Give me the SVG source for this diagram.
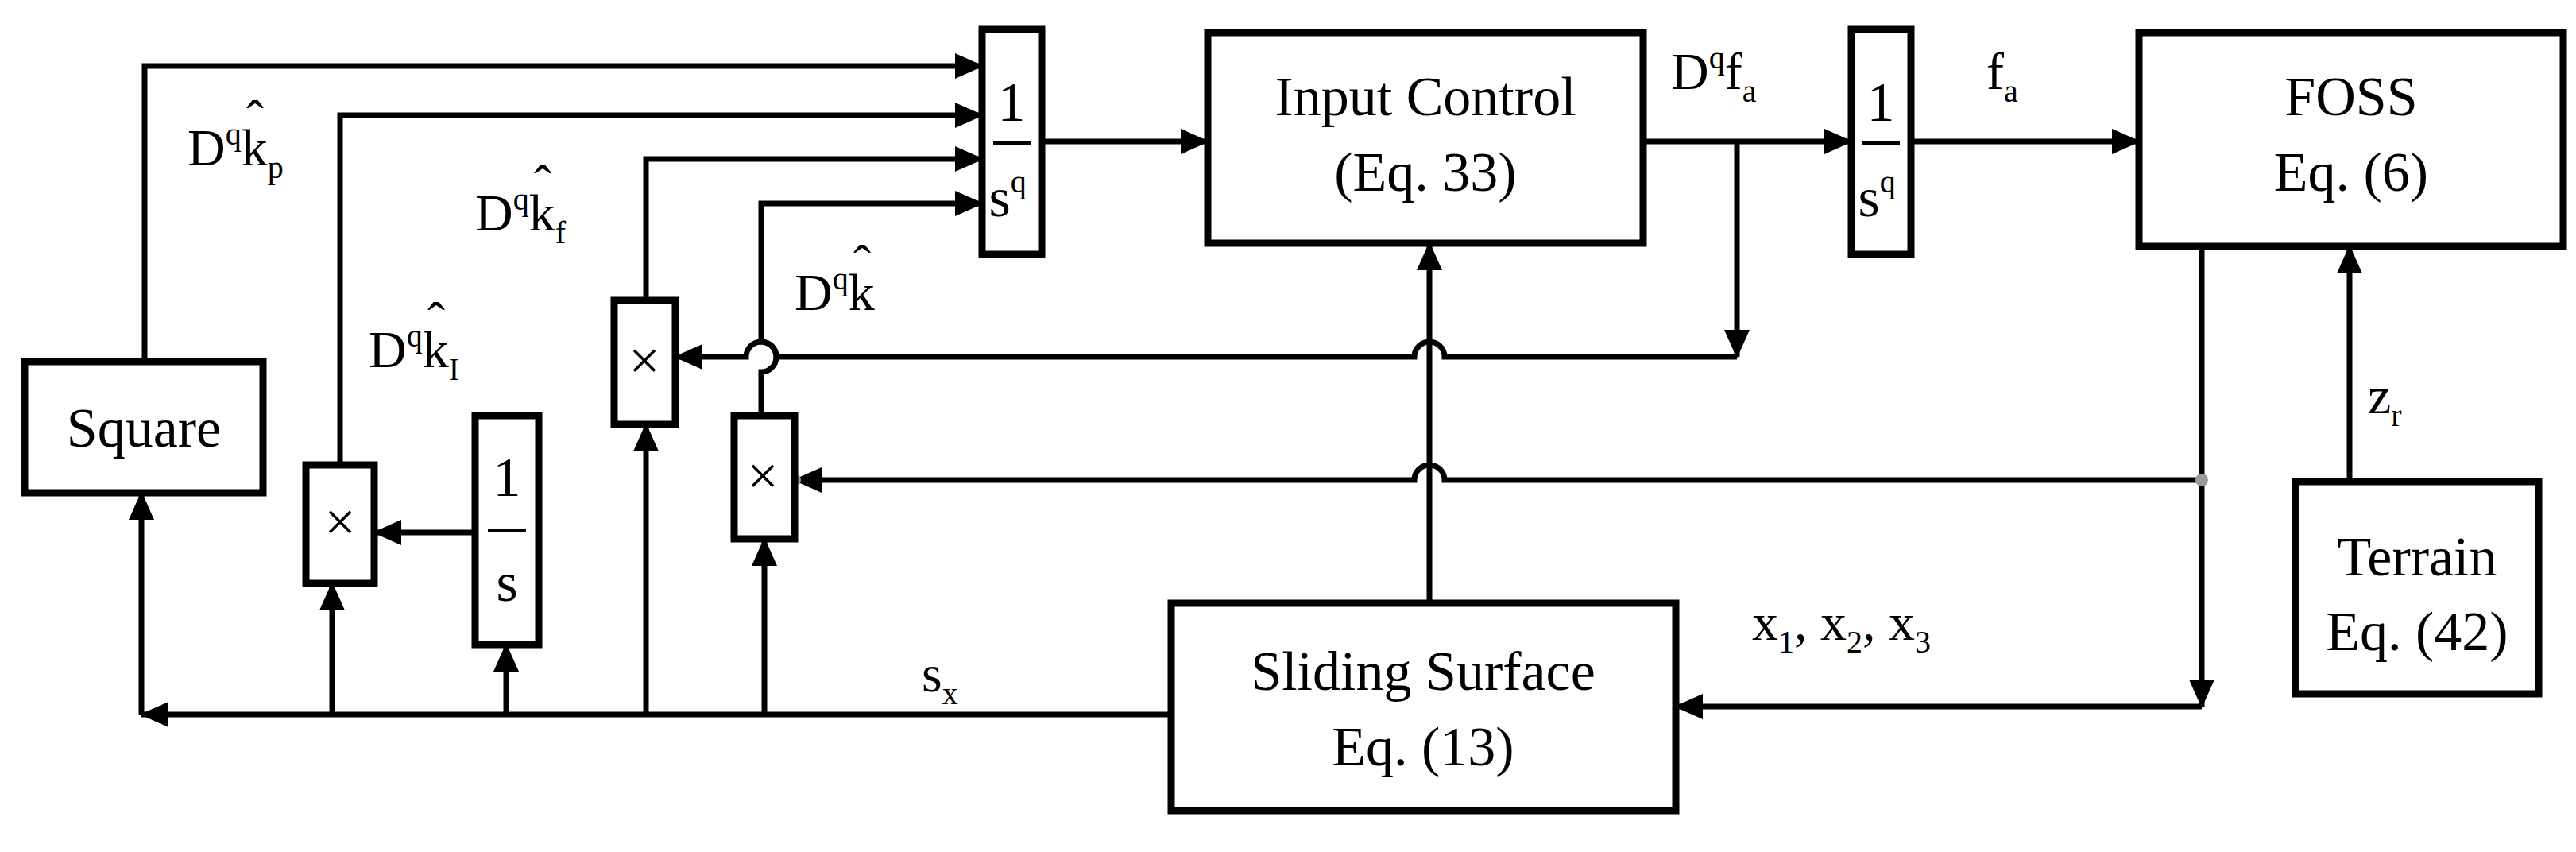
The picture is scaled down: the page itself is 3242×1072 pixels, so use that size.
<svg xmlns="http://www.w3.org/2000/svg" width="3242" height="1072" viewBox="0 0 3242 1072">
<style>
.b{fill:#fff;stroke:#000;stroke-width:9}
.l{fill:none;stroke:#000;stroke-width:7}
.t{font-family:"Liberation Serif","Times New Roman","DejaVu Serif",serif;font-size:70px;text-anchor:middle;fill:#000}
.lb{font-family:"Liberation Serif","Times New Roman","DejaVu Serif",serif;font-size:66px;fill:#000}
.h{font-family:"Liberation Serif","Times New Roman","DejaVu Serif",serif;font-size:66px;text-anchor:middle;fill:#000}
.sub{font-size:40px}
</style>
<defs>
<marker id="a" markerUnits="userSpaceOnUse" markerWidth="36" markerHeight="32" refX="34" refY="16" orient="auto"><path d="M0,0 L36,16 L0,32 Z"/></marker>
</defs>
<g id="connectors">
<path class="l" d="M182,455 V83 H1236" marker-end="url(#a)"/>
<path class="l" d="M428,585 V145 H1236" marker-end="url(#a)"/>
<path class="l" d="M813,378 V200 H1236" marker-end="url(#a)"/>
<path class="l" d="M958,523 V468 A19,19 0 0 0 958,430 V256 H1236" marker-end="url(#a)"/>
<path class="l" d="M1311,178 H1520" marker-end="url(#a)"/>
<path class="l" d="M2068,178 H2330" marker-end="url(#a)"/>
<path class="l" d="M2186,178 V449" marker-end="url(#a)"/>
<path class="l" d="M2186,449 H1818 A19,19 0 0 0 1780,449 H977 A19,19 0 0 0 939,449 H850" marker-end="url(#a)"/>
<path class="l" d="M2405,178 H2692" marker-end="url(#a)"/>
<path class="l" d="M2771,310 V889" marker-end="url(#a)"/>
<path class="l" d="M2771,889 H2109" marker-end="url(#a)"/>
<path class="l" d="M2771,604 H1818 A19,19 0 0 0 1780,604 H1000" marker-end="url(#a)"/>
<path class="l" d="M2957,606 V310" marker-end="url(#a)"/>
<path class="l" d="M1799,759 V306" marker-end="url(#a)"/>
<path class="l" d="M1474,899 H178" marker-end="url(#a)"/>
<path class="l" d="M178,899 V620" marker-end="url(#a)"/>
<path class="l" d="M418,899 V734" marker-end="url(#a)"/>
<path class="l" d="M637,899 V811" marker-end="url(#a)"/>
<path class="l" d="M813,899 V534" marker-end="url(#a)"/>
<path class="l" d="M962,899 V678" marker-end="url(#a)"/>
<path class="l" d="M598,670 H471" marker-end="url(#a)"/>
<circle cx="2771" cy="604" r="8" fill="#999"/>
<circle cx="1000" cy="604" r="8" fill="#999"/>
</g>
<g id="int1"><rect class="b" x="1236" y="37" width="75" height="283"/><text class="t" x="1273" y="152">1</text><line x1="1250" y1="180" x2="1297" y2="180" stroke="#000" stroke-width="4"/><text class="t" x="1268" y="272">s<tspan class="sub" dy="-30">q</tspan></text></g>
<g id="input"><rect class="b" x="1520" y="41" width="548" height="265"/><text class="t" x="1794" y="145">Input Control</text><text class="t" x="1794" y="240">(Eq. 33)</text></g>
<g id="int2"><rect class="b" x="2330" y="37" width="75" height="283"/><text class="t" x="2367" y="152">1</text><line x1="2344" y1="180" x2="2391" y2="180" stroke="#000" stroke-width="4"/><text class="t" x="2362" y="272">s<tspan class="sub" dy="-30">q</tspan></text></g>
<g id="foss"><rect class="b" x="2692" y="41" width="534" height="269"/><text class="t" x="2959" y="145">FOSS</text><text class="t" x="2959" y="240">Eq. (6)</text></g>
<g id="square"><rect class="b" x="31" y="455" width="300" height="165"/><text class="t" x="181" y="562">Square</text></g>
<g id="mul1"><rect class="b" x="385" y="585" width="86" height="149"/><text class="t" x="428" y="680">×</text></g>
<g id="integ"><rect class="b" x="598" y="523" width="80" height="288"/><text class="t" x="638" y="624">1</text><line x1="614" y1="667" x2="662" y2="667" stroke="#000" stroke-width="4"/><text class="t" x="638" y="756">s</text></g>
<g id="mul2"><rect class="b" x="773" y="378" width="77" height="156"/><text class="t" x="811" y="477">×</text></g>
<g id="mul3"><rect class="b" x="924" y="523" width="76" height="155"/><text class="t" x="960" y="622">×</text></g>
<g id="sliding"><rect class="b" x="1474" y="759" width="635" height="261"/><text class="t" x="1791" y="868">Sliding Surface</text><text class="t" x="1791" y="963">Eq. (13)</text></g>
<g id="terrain"><rect class="b" x="2889" y="606" width="306" height="267"/><text class="t" x="3042" y="724">Terrain</text><text class="t" x="3042" y="818">Eq. (42)</text></g>
<g id="labels">
<text class="lb" x="236" y="208">D<tspan class="sub" dy="-26">q</tspan><tspan dy="26">k</tspan><tspan class="sub" dy="16">p</tspan></text>
<text class="h" x="321" y="172">ˆ</text>
<text class="lb" x="598" y="290">D<tspan class="sub" dy="-26">q</tspan><tspan dy="26">k</tspan><tspan class="sub" dy="16">f</tspan></text>
<text class="h" x="683" y="254">ˆ</text>
<text class="lb" x="464" y="462">D<tspan class="sub" dy="-26">q</tspan><tspan dy="26">k</tspan><tspan class="sub" dy="16">I</tspan></text>
<text class="h" x="549" y="426">ˆ</text>
<text class="lb" x="1000" y="390">D<tspan class="sub" dy="-26">q</tspan><tspan dy="26">k</tspan></text>
<text class="h" x="1085" y="354">ˆ</text>
<text class="lb" x="2103" y="112">D<tspan class="sub" dy="-26">q</tspan><tspan dy="26">f</tspan><tspan class="sub" dy="16">a</tspan></text>
<text class="lb" x="2500" y="112">f<tspan class="sub" dy="16">a</tspan></text>
<text class="lb" x="2980" y="520">z<tspan class="sub" dy="16">r</tspan></text>
<text class="lb" x="1160" y="870">s<tspan class="sub" dy="16">x</tspan></text>
<text class="lb" x="2205" y="805">x<tspan class="sub" dy="16">1</tspan><tspan dy="-16">, x</tspan><tspan class="sub" dy="16">2</tspan><tspan dy="-16">, x</tspan><tspan class="sub" dy="16">3</tspan></text>
</g>
</svg>
